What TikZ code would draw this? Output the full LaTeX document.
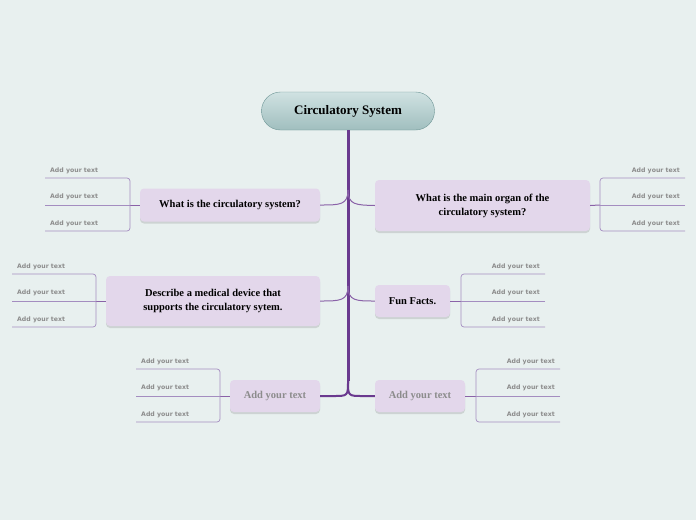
\documentclass[tikz,border=0pt]{standalone}
\usepackage{fontspec}
\setmainfont{Liberation Serif}
\setsansfont{DejaVu Sans}
\usetikzlibrary{shadows}
\definecolor{bg}{HTML}{E8F0EF}
\definecolor{trunk}{HTML}{6A3A8F}
\definecolor{branch}{HTML}{8A62A8}
\definecolor{leafc}{HTML}{A48DC0}
\definecolor{subf}{HTML}{E3D7EB}
\definecolor{leaftx}{HTML}{8C8C8C}
\definecolor{rootd}{HTML}{6E9696}
\definecolor{roott}{HTML}{D0E2E2}
\definecolor{rootb}{HTML}{A0BEBE}
\tikzset{
 sub/.style={draw=none,fill=subf,rounded corners=4pt,font=\bfseries\fontsize{10.5}{14}\selectfont,align=center,inner sep=0pt,drop shadow={shadow xshift=0pt,shadow yshift=-2pt,opacity=0.25}},
 leaf/.style={font=\sffamily\bfseries\fontsize{6.2}{7}\selectfont,text=leaftx,inner sep=0pt},
 lline/.style={draw=leafc,line width=0.7pt,rounded corners=3pt},
 br/.style={draw=branch,line width=1pt},
}
\begin{document}
\begin{tikzpicture}[x=1pt,y=-1pt]
\fill[bg] (0,0) rectangle (696,520);
\useasboundingbox (0,0) rectangle (696,520);
% root
\node[draw=rootd,top color=roott,bottom color=rootb,rounded corners=19pt,minimum width=173pt,minimum height=38pt,font=\bfseries\fontsize{13}{15}\selectfont] (root) at (348,111) {Circulatory System};
% subtopics
\node[sub,minimum width=180pt,minimum height=33pt] (l1) at (230,205) {What is the circulatory system?};
\node[sub,minimum width=215pt,minimum height=51pt] (r1) at (482.5,205.5) {What is the main organ of the\\circulatory system?};
\node[sub,minimum width=214pt,minimum height=50pt] (l2) at (213,301) {Describe a medical device that\\supports the circulatory sytem.};
\node[sub,minimum width=75pt,minimum height=32pt] (r2) at (412.5,301) {Fun Facts.};
\node[sub,minimum width=90pt,minimum height=32pt,text=leaftx] (l3) at (275,396) {Add your text};
\node[sub,minimum width=90pt,minimum height=32pt,text=leaftx] (r3) at (420,396) {Add your text};
% trunk
\coordinate (t1) at (348,381);
\draw[trunk,line width=3pt] (root.south) -- (t1);
\draw[trunk,line width=2pt] (t1) .. controls (348,396) .. (333,396) -- (l3.east);
\draw[trunk,line width=2pt] (t1) .. controls (348,396) .. (363,396) -- (r3.west);
\foreach \n/\y in {l1/205,l2/301}{
 \draw[br] (348,\y-15) .. controls (348,\y) and (340,\y) .. (\n.east);}
\foreach \n/\y in {r1/205,r2/301}{
 \draw[br] (348,\y-15) .. controls (348,\y) and (356,\y) .. (\n.west);}
% leaves
\foreach \n/\y/\bx/\lx in {l1/205/130/45,l2/301/96/12,l3/396/220/136}{
 \draw[br] (\n.west) -- (\bx,\y);
 \draw[lline] (\lx,\y-27) -- (\bx,\y-27) -- (\bx,\y+26) -- (\lx,\y+26);
 \draw[lline] (\lx,\y) -- (\bx,\y);
 \node[leaf,anchor=west] (a\n) at (\lx+5,\y-34) {Add your text};
 \node[leaf,anchor=west] (b\n) at (\lx+5,\y-8) {Add your text};
 \node[leaf,anchor=west] (c\n) at (\lx+5,\y+19) {Add your text};
}
\foreach \n/\y/\bx/\lx in {r1/205/600/685,r2/301/461/545,r3/396/476/560}{
 \draw[br] (\n.east) -- (\bx,\y);
 \draw[lline] (\lx,\y-27) -- (\bx,\y-27) -- (\bx,\y+26) -- (\lx,\y+26);
 \draw[lline] (\lx,\y) -- (\bx,\y);
 \node[leaf,anchor=east] (a\n) at (\lx-5,\y-34) {Add your text};
 \node[leaf,anchor=east] (b\n) at (\lx-5,\y-8) {Add your text};
 \node[leaf,anchor=east] (c\n) at (\lx-5,\y+19) {Add your text};
}
\end{tikzpicture}
\end{document}
